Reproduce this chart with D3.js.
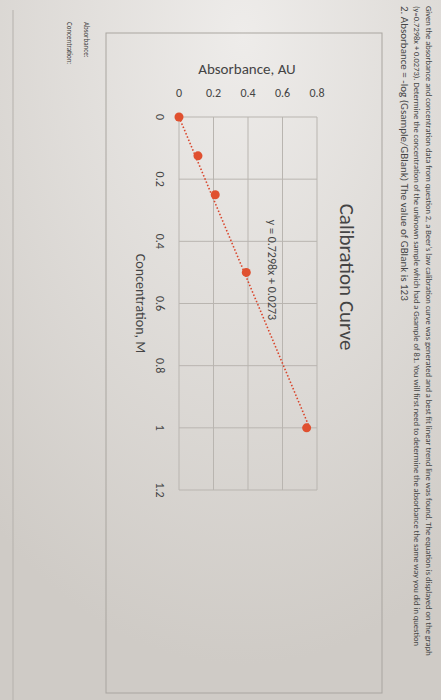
<!DOCTYPE html>
<html><head><meta charset="utf-8">
<script src="https://cdn.jsdelivr.net/npm/d3@7"></script>
<style>body{margin:0;background:#d9d6d2}text{font-family:Calibri,"Open Sans",sans-serif;fill:#444}</style>
</head><body><div id="chart"></div>
<script>
const concentration = [0, 0.125, 0.25, 0.5, 1.0];
const absorbance = [0, 0.11, 0.21, 0.39, 0.74];
const absTicks = [0, 0.2, 0.4, 0.6, 0.8];
const concTicks = [0, 0.2, 0.4, 0.6, 0.8, 1, 1.2];
const pageLines = [
  "Given the absorbance and concentration data from question 2, a Beer's law calibration curve was generated and a best fit linear trend line was found. The equation is displayed on the graph",
  "(y=0.7298x + 0.0273). Determine the concentration of the unknown sample which had a Gsample of 81. You will first need to determine the absorbance the same way you did in question",
  "2. Absorbance = -log (Gsample/GBlank)   The value of GBlank is 123"
];

const width = 441, height = 700;
const svg = d3.select("#chart").append("svg").attr("width", width).attr("height", height);

// paper with a lighter patch near the top
const grad = svg.append("defs").append("radialGradient").attr("id", "paper").attr("cx", "0.55").attr("cy", "0.05").attr("r", "0.9");
grad.append("stop").attr("offset", "0").attr("stop-color", "#eeecea");
grad.append("stop").attr("offset", "1").attr("stop-color", "#cfcbc6");
svg.append("rect").attr("width", width).attr("height", height).attr("fill", "url(#paper)");

// chart frame
svg.append("rect").attr("x", 106).attr("y", 33).attr("width", 276).attr("height", 660)
  .attr("fill", "none").attr("stroke", "#a9a5a0");
svg.append("line").attr("x1", 13).attr("x2", 13).attr("y1", 10).attr("y2", 700).attr("stroke", "#b5b1ac");

// absorbance runs left->right, concentration runs top->bottom (chart is rotated 90deg)
const x = d3.scaleLinear().domain([0, 0.8]).range([179, 317]);
const y = d3.scaleLinear().domain([0, 1.2]).range([117, 490]);

const grid = svg.append("g").attr("stroke", "#b9b5b0");
grid.selectAll(".gx").data(absTicks).join("line")
  .attr("x1", d => x(d)).attr("x2", d => x(d)).attr("y1", y(0)).attr("y2", y(1.2));
grid.selectAll(".gy").data(concTicks).join("line")
  .attr("y1", d => y(d)).attr("y2", d => y(d)).attr("x1", x(0)).attr("x2", x(0.8));

svg.selectAll(".at").data(absTicks).join("text")
  .attr("x", d => x(d)).attr("y", 97).attr("text-anchor", "middle")
  .attr("font-size", 12).text(d => d);
svg.selectAll(".ct").data(concTicks).join("text")
  .attr("transform", d => `translate(160,${y(d)}) rotate(90)`)
  .attr("text-anchor", "middle").attr("dy", "0.35em").attr("font-size", 12).text(d => d);

svg.append("text").attr("x", 247).attr("y", 74).attr("text-anchor", "middle")
  .attr("font-size", 15).text("Absorbance, AU");
svg.append("text").attr("transform", `translate(136,${y(0.6)}) rotate(90)`)
  .attr("text-anchor", "middle").attr("font-size", 14).text("Concentration, M");
svg.append("text").attr("transform", "translate(340,277) rotate(90)")
  .attr("text-anchor", "middle").attr("font-size", 21).text("Calibration Curve");
svg.append("text").attr("transform", "translate(268,270) rotate(90)")
  .attr("text-anchor", "middle").attr("font-size", 12).text("y = 0.7298x + 0.0273");

// trend line
const fit = c => 0.7298 * c + 0.0273;
svg.append("line")
  .attr("x1", x(fit(0) - 0.0273)).attr("y1", y(0))
  .attr("x2", x(fit(1))).attr("y2", y(1))
  .attr("stroke", "#d9452b").attr("stroke-width", 1.6).attr("stroke-dasharray", "1.5,2");

svg.selectAll(".pt").data(concentration).join("circle")
  .attr("cx", (d, i) => x(absorbance[i])).attr("cy", d => y(d))
  .attr("r", 4.5).attr("fill", "#e0502f");

// page text printed above the chart (vertical in the photo)
svg.selectAll(".pl").data(pageLines).join("text")
  .attr("transform", (d, i) => `translate(${[426, 414, 401][i]},6) rotate(90)`)
  .attr("font-size", (d, i) => i == 2 ? 11 : 8.5).text(d => d);

svg.append("text").attr("transform", "translate(84,22) rotate(90)").attr("font-size", 7).text("Absorbance:");
svg.append("text").attr("transform", "translate(67,22) rotate(90)").attr("font-size", 7).text("Concentration:");
</script></body></html>
